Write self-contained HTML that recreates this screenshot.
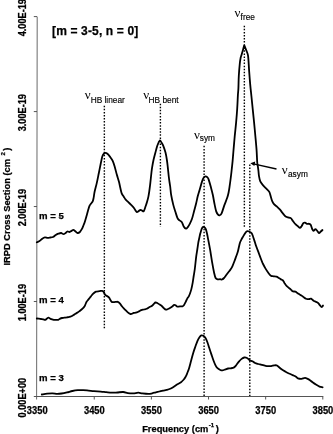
<!DOCTYPE html>
<html><head><meta charset="utf-8"><style>
html,body{margin:0;padding:0;background:#fff;}
body{width:333px;height:434px;overflow:hidden;}
svg{display:block;}
</style></head><body>
<svg width="333" height="434" viewBox="0 0 333 434"><g stroke="#555" stroke-width="1" fill="none"><path d="M37.2,16.6 L36.6,399.5" stroke="#6a6a6a"/><path d="M36.5,396.5 H323.3"/><path d="M33.8,396.50 H37.0"/><path d="M33.8,301.52 H37.0"/><path d="M33.8,206.55 H37.0"/><path d="M33.8,111.58 H37.0"/><path d="M33.8,16.60 H37.0"/><path d="M94.24,396.5 V399.5"/><path d="M151.38,396.5 V399.5"/><path d="M208.52,396.5 V399.5"/><path d="M265.66,396.5 V399.5"/><path d="M322.80,396.5 V399.5"/></g><g stroke="#000" stroke-width="1.4" stroke-dasharray="1.5 1.57" fill="none"><path d="M104.35,105.75 V328.2"/><path d="M160.4,103.65 V226.7"/><path d="M204.1,145.85 V396"/><path d="M244.35,25.75 V226.9"/><path d="M249.8,164.55 V396"/></g><g stroke="#000" stroke-width="1.8" fill="none" stroke-linejoin="round" stroke-linecap="round"><path d="M36.80,242.30C37.25,242.08 38.60,241.60 39.50,241.00C40.40,240.40 41.30,239.32 42.20,238.70C43.10,238.08 44.00,237.45 44.90,237.30C45.80,237.15 46.70,237.77 47.60,237.80C48.50,237.83 49.40,237.63 50.30,237.50C51.20,237.37 52.10,237.40 53.00,237.00C53.90,236.60 54.80,235.65 55.70,235.10C56.60,234.55 57.50,234.05 58.40,233.70C59.30,233.35 60.25,232.92 61.10,233.00C61.95,233.08 62.75,234.20 63.50,234.20C64.25,234.20 64.95,233.45 65.60,233.00C66.25,232.55 66.73,231.67 67.40,231.50C68.07,231.33 68.92,232.10 69.60,232.00C70.28,231.90 70.87,231.27 71.50,230.90C72.13,230.53 72.77,229.73 73.40,229.80C74.03,229.87 74.60,230.77 75.30,231.30C76.00,231.83 76.83,232.88 77.60,233.00C78.37,233.12 79.20,232.63 79.90,232.00C80.60,231.37 81.18,230.37 81.80,229.20C82.42,228.03 83.13,226.12 83.60,225.00C84.07,223.88 84.15,223.88 84.60,222.50C85.05,221.12 85.72,218.73 86.30,216.70C86.88,214.67 87.57,212.10 88.10,210.30C88.63,208.50 89.03,206.98 89.50,205.90C89.97,204.82 90.35,204.60 90.90,203.80C91.45,203.00 92.33,202.17 92.80,201.10C93.27,200.03 93.40,198.95 93.70,197.40C94.00,195.85 94.08,194.22 94.60,191.80C95.12,189.38 96.10,186.00 96.80,182.90C97.50,179.80 98.12,176.55 98.80,173.20C99.48,169.85 100.32,165.57 100.90,162.80C101.48,160.03 101.83,158.10 102.30,156.60C102.77,155.10 103.17,154.42 103.70,153.80C104.23,153.18 104.88,152.90 105.50,152.90C106.12,152.90 106.67,153.18 107.40,153.80C108.13,154.42 109.02,155.43 109.90,156.60C110.78,157.77 111.88,159.07 112.70,160.80C113.52,162.53 114.12,164.70 114.80,167.00C115.48,169.30 116.12,172.18 116.80,174.60C117.48,177.02 118.32,179.30 118.90,181.50C119.48,183.70 119.83,185.83 120.30,187.80C120.77,189.77 121.12,191.82 121.70,193.30C122.28,194.78 123.17,195.68 123.80,196.70C124.43,197.72 124.75,198.50 125.50,199.40C126.25,200.30 127.37,201.18 128.30,202.10C129.23,203.02 130.18,203.97 131.10,204.90C132.02,205.83 133.07,206.78 133.80,207.70C134.53,208.62 134.98,209.67 135.50,210.40C136.02,211.13 136.37,211.98 136.90,212.10C137.43,212.22 138.10,211.48 138.70,211.10C139.30,210.72 139.93,209.87 140.50,209.80C141.07,209.73 141.55,210.48 142.10,210.70C142.65,210.92 143.22,211.83 143.80,211.10C144.38,210.37 145.07,207.80 145.60,206.30C146.13,204.80 146.53,203.72 147.00,202.10C147.47,200.48 148.02,198.43 148.40,196.60C148.78,194.77 149.00,193.17 149.30,191.10C149.60,189.03 149.83,187.38 150.20,184.20C150.57,181.02 151.15,174.97 151.50,172.00C151.85,169.03 151.97,168.40 152.30,166.40C152.63,164.40 152.98,162.30 153.50,160.00C154.02,157.70 154.78,154.92 155.40,152.60C156.02,150.28 156.70,147.70 157.20,146.10C157.70,144.50 158.05,143.80 158.40,143.00C158.75,142.20 159.03,141.72 159.30,141.30C159.57,140.88 159.77,140.52 160.00,140.50C160.23,140.48 160.43,140.85 160.70,141.20C160.97,141.55 161.18,141.87 161.60,142.60C162.02,143.33 162.55,143.93 163.20,145.60C163.85,147.27 164.88,150.20 165.50,152.60C166.12,155.00 166.52,157.55 166.90,160.00C167.28,162.45 167.50,164.63 167.80,167.30C168.10,169.97 168.42,173.55 168.70,176.00C168.98,178.45 169.25,180.25 169.50,182.00C169.75,183.75 169.92,184.30 170.20,186.50C170.48,188.70 170.68,192.13 171.20,195.20C171.72,198.27 172.60,202.13 173.30,204.90C174.00,207.67 174.70,209.60 175.40,211.80C176.10,214.00 176.82,216.67 177.50,218.10C178.18,219.53 178.77,219.72 179.50,220.40C180.23,221.08 181.20,221.20 181.90,222.20C182.60,223.20 183.02,225.32 183.70,226.40C184.38,227.48 185.32,228.58 186.00,228.70C186.68,228.82 187.15,227.95 187.80,227.10C188.45,226.25 189.20,224.98 189.90,223.60C190.60,222.22 191.30,220.88 192.00,218.80C192.70,216.72 193.42,213.65 194.10,211.10C194.78,208.55 195.48,206.02 196.10,203.50C196.72,200.98 197.22,198.25 197.80,196.00C198.38,193.75 198.90,192.40 199.60,190.00C200.30,187.60 201.30,183.67 202.00,181.60C202.70,179.53 203.22,178.47 203.80,177.60C204.38,176.73 204.93,176.47 205.50,176.40C206.07,176.33 206.68,176.70 207.20,177.20C207.72,177.70 207.97,177.67 208.60,179.40C209.23,181.13 210.30,185.03 211.00,187.60C211.70,190.17 212.20,192.00 212.80,194.80C213.40,197.60 214.03,201.63 214.60,204.40C215.17,207.17 215.63,209.70 216.20,211.40C216.77,213.10 217.43,213.95 218.00,214.60C218.57,215.25 219.00,215.50 219.60,215.30C220.20,215.10 220.83,215.02 221.60,213.40C222.37,211.78 223.27,208.20 224.20,205.60C225.13,203.00 226.47,199.98 227.20,197.80C227.93,195.62 228.20,194.40 228.60,192.50C229.00,190.60 229.27,188.65 229.60,186.40C229.93,184.15 230.28,181.48 230.60,179.00C230.92,176.52 231.17,174.48 231.50,171.50C231.83,168.52 232.28,164.43 232.60,161.10C232.92,157.77 233.05,155.60 233.40,151.50C233.75,147.40 234.25,141.30 234.70,136.50C235.15,131.70 235.68,127.32 236.10,122.70C236.52,118.08 236.90,113.42 237.20,108.80C237.50,104.18 237.70,98.40 237.90,95.00C238.10,91.60 238.25,91.57 238.40,88.40C238.55,85.23 238.57,80.15 238.80,76.00C239.03,71.85 239.50,66.50 239.80,63.50C240.10,60.50 240.33,59.37 240.60,58.00C240.87,56.63 241.07,56.42 241.40,55.30C241.73,54.18 242.23,52.60 242.60,51.30C242.97,50.00 243.32,48.48 243.60,47.50C243.88,46.52 244.05,45.43 244.30,45.40C244.55,45.37 244.70,46.32 245.10,47.30C245.50,48.28 246.22,49.97 246.70,51.30C247.18,52.63 247.70,53.72 248.00,55.30C248.30,56.88 248.30,58.05 248.50,60.80C248.70,63.55 248.92,67.88 249.20,71.80C249.48,75.72 249.83,80.27 250.20,84.30C250.57,88.33 250.98,91.92 251.40,96.00C251.82,100.08 252.25,104.35 252.70,108.80C253.15,113.25 253.65,118.08 254.10,122.70C254.55,127.32 254.98,131.88 255.40,136.50C255.82,141.12 256.30,146.15 256.60,150.40C256.90,154.65 257.00,159.40 257.20,162.00C257.40,164.60 257.60,164.58 257.80,166.00C258.00,167.42 258.20,168.82 258.40,170.50C258.60,172.18 258.68,174.28 259.00,176.10C259.32,177.92 259.65,179.90 260.30,181.40C260.95,182.90 261.85,183.85 262.90,185.10C263.95,186.35 265.53,187.77 266.60,188.90C267.67,190.03 268.62,190.67 269.30,191.90C269.98,193.13 270.23,194.80 270.70,196.30C271.17,197.80 271.55,199.58 272.10,200.90C272.65,202.22 273.18,203.23 274.00,204.20C274.82,205.17 276.03,205.83 277.00,206.70C277.97,207.57 278.88,208.37 279.80,209.40C280.72,210.43 281.58,211.77 282.50,212.90C283.42,214.03 284.40,215.47 285.30,216.20C286.20,216.93 286.98,216.98 287.90,217.30C288.82,217.62 289.97,217.48 290.80,218.10C291.63,218.72 292.23,220.10 292.90,221.00C293.57,221.90 294.08,222.73 294.80,223.50C295.52,224.27 296.37,224.88 297.20,225.60C298.03,226.32 299.07,227.70 299.80,227.80C300.53,227.90 301.02,226.97 301.60,226.20C302.18,225.43 302.73,223.80 303.30,223.20C303.87,222.60 304.38,222.50 305.00,222.60C305.62,222.70 306.30,223.60 307.00,223.80C307.70,224.00 308.57,223.60 309.20,223.80C309.83,224.00 310.30,224.13 310.80,225.00C311.30,225.87 311.75,228.02 312.20,229.00C312.65,229.98 312.97,230.87 313.50,230.90C314.03,230.93 314.78,229.22 315.40,229.20C316.02,229.18 316.60,230.17 317.20,230.80C317.80,231.43 318.40,232.88 319.00,233.00C319.60,233.12 320.22,232.00 320.80,231.50C321.38,231.00 322.22,230.25 322.50,230.00"/><path d="M36.80,318.50C37.13,318.53 38.10,318.62 38.80,318.70C39.50,318.78 40.25,318.90 41.00,319.00C41.75,319.10 42.58,319.17 43.30,319.30C44.02,319.43 44.68,319.93 45.30,319.80C45.92,319.67 46.47,318.87 47.00,318.50C47.53,318.13 47.92,317.55 48.50,317.60C49.08,317.65 49.62,318.43 50.50,318.80C51.38,319.17 52.88,319.62 53.80,319.80C54.72,319.98 55.25,319.90 56.00,319.90C56.75,319.90 57.60,320.02 58.30,319.80C59.00,319.58 59.58,318.90 60.20,318.60C60.82,318.30 61.32,318.15 62.00,318.00C62.68,317.85 63.43,317.82 64.30,317.70C65.17,317.58 66.35,317.43 67.20,317.30C68.05,317.17 68.70,317.08 69.40,316.90C70.10,316.72 70.72,316.52 71.40,316.20C72.08,315.88 72.80,315.40 73.50,315.00C74.20,314.60 74.93,314.20 75.60,313.80C76.27,313.40 76.90,313.00 77.50,312.60C78.10,312.20 78.32,312.10 79.20,311.40C80.08,310.70 81.90,309.27 82.80,308.40C83.70,307.53 84.13,306.93 84.60,306.20C85.07,305.47 85.27,304.73 85.60,304.00C85.93,303.27 86.15,302.53 86.60,301.80C87.05,301.07 87.73,300.32 88.30,299.60C88.87,298.88 89.38,298.27 90.00,297.50C90.62,296.73 91.40,295.70 92.00,295.00C92.60,294.30 92.93,293.87 93.60,293.30C94.27,292.73 95.03,291.95 96.00,291.60C96.97,291.25 98.38,291.33 99.40,291.20C100.42,291.07 101.37,290.65 102.10,290.80C102.83,290.95 103.28,291.42 103.80,292.10C104.32,292.78 104.67,294.25 105.20,294.90C105.73,295.55 106.35,295.53 107.00,296.00C107.65,296.47 108.48,296.97 109.10,297.70C109.72,298.43 110.20,299.67 110.70,300.40C111.20,301.13 111.50,301.82 112.10,302.10C112.70,302.38 113.60,302.15 114.30,302.10C115.00,302.05 115.72,301.83 116.30,301.80C116.88,301.77 117.22,301.65 117.80,301.90C118.38,302.15 119.12,302.57 119.80,303.30C120.48,304.03 121.08,305.30 121.90,306.30C122.72,307.30 123.77,308.33 124.70,309.30C125.63,310.27 126.58,311.33 127.50,312.10C128.42,312.87 129.52,313.60 130.20,313.90C130.88,314.20 131.02,314.07 131.60,313.90C132.18,313.73 133.00,313.10 133.70,312.90C134.40,312.70 135.00,312.92 135.80,312.70C136.60,312.48 137.58,312.02 138.50,311.60C139.42,311.18 140.37,310.55 141.30,310.20C142.23,309.85 143.18,309.75 144.10,309.50C145.02,309.25 145.88,309.12 146.80,308.70C147.72,308.28 148.72,307.50 149.60,307.00C150.48,306.50 151.38,306.22 152.10,305.70C152.82,305.18 153.33,304.43 153.90,303.90C154.47,303.37 154.88,302.62 155.50,302.50C156.12,302.38 156.90,302.85 157.60,303.20C158.30,303.55 159.00,304.13 159.70,304.60C160.40,305.07 161.12,305.42 161.80,306.00C162.48,306.58 163.12,307.48 163.80,308.10C164.48,308.72 165.20,309.55 165.90,309.70C166.60,309.85 167.18,309.38 168.00,309.00C168.82,308.62 170.00,307.90 170.80,307.40C171.60,306.90 172.23,306.42 172.80,306.00C173.37,305.58 173.73,305.02 174.20,304.90C174.67,304.78 175.07,305.00 175.60,305.30C176.13,305.60 176.70,306.53 177.40,306.70C178.10,306.87 178.95,306.37 179.80,306.30C180.65,306.23 181.82,306.47 182.50,306.30C183.18,306.13 183.37,306.05 183.90,305.30C184.43,304.55 185.12,302.95 185.70,301.80C186.28,300.65 186.88,299.32 187.40,298.40C187.92,297.48 188.37,297.12 188.80,296.30C189.23,295.48 189.58,294.65 190.00,293.50C190.42,292.35 190.85,291.22 191.30,289.40C191.75,287.58 192.30,284.83 192.70,282.60C193.10,280.37 193.35,278.27 193.70,276.00C194.05,273.73 194.38,272.23 194.80,269.00C195.22,265.77 195.78,259.85 196.20,256.60C196.62,253.35 196.95,251.82 197.30,249.50C197.65,247.18 197.95,244.70 198.30,242.70C198.65,240.70 199.05,239.10 199.40,237.50C199.75,235.90 200.00,234.58 200.40,233.10C200.80,231.62 201.33,229.63 201.80,228.60C202.27,227.57 202.73,227.10 203.20,226.90C203.67,226.70 204.15,227.00 204.60,227.40C205.05,227.80 205.50,228.28 205.90,229.30C206.30,230.32 206.65,231.95 207.00,233.50C207.35,235.05 207.48,235.90 208.00,238.60C208.52,241.30 209.42,245.78 210.10,249.70C210.78,253.62 211.42,258.18 212.10,262.10C212.78,266.02 213.62,270.55 214.20,273.20C214.78,275.85 215.02,276.97 215.60,278.00C216.18,279.03 216.97,279.20 217.70,279.40C218.43,279.60 219.28,279.18 220.00,279.20C220.72,279.22 221.33,279.70 222.00,279.50C222.67,279.30 223.35,278.67 224.00,278.00C224.65,277.33 225.20,276.42 225.90,275.50C226.60,274.58 227.43,273.48 228.20,272.50C228.97,271.52 229.77,270.72 230.50,269.60C231.23,268.48 231.93,267.23 232.60,265.80C233.27,264.37 233.90,262.58 234.50,261.00C235.10,259.42 235.65,257.83 236.20,256.30C236.75,254.77 237.20,253.98 237.80,251.80C238.40,249.62 239.20,245.23 239.80,243.20C240.40,241.17 240.85,240.70 241.40,239.60C241.95,238.50 242.53,237.58 243.10,236.60C243.67,235.62 244.25,234.53 244.80,233.70C245.35,232.87 245.92,232.02 246.40,231.60C246.88,231.18 247.27,231.22 247.70,231.20C248.13,231.18 248.53,231.33 249.00,231.50C249.47,231.67 250.05,231.90 250.50,232.20C250.95,232.50 251.33,232.75 251.70,233.30C252.07,233.85 252.37,234.63 252.70,235.50C253.03,236.37 253.32,237.33 253.70,238.50C254.08,239.67 254.57,241.17 255.00,242.50C255.43,243.83 255.63,244.63 256.30,246.50C256.97,248.37 258.30,251.82 259.00,253.70C259.70,255.58 260.00,256.47 260.50,257.80C261.00,259.13 261.62,260.75 262.00,261.70C262.38,262.65 262.23,262.38 262.80,263.50C263.37,264.62 264.52,266.90 265.40,268.40C266.28,269.90 267.18,271.28 268.10,272.50C269.02,273.72 269.97,275.07 270.90,275.70C271.83,276.33 272.77,276.13 273.70,276.30C274.63,276.47 275.65,276.40 276.50,276.70C277.35,277.00 278.05,277.65 278.80,278.10C279.55,278.55 280.35,279.03 281.00,279.40C281.65,279.77 282.23,279.90 282.70,280.30C283.17,280.70 283.47,281.28 283.80,281.80C284.13,282.32 284.33,282.82 284.70,283.40C285.07,283.98 285.55,284.75 286.00,285.30C286.45,285.85 286.90,286.25 287.40,286.70C287.90,287.15 288.45,287.57 289.00,288.00C289.55,288.43 290.20,288.83 290.70,289.30C291.20,289.77 291.62,290.45 292.00,290.80C292.38,291.15 292.43,291.25 293.00,291.40C293.57,291.55 294.73,291.47 295.40,291.70C296.07,291.93 296.50,292.45 297.00,292.80C297.50,293.15 297.90,293.47 298.40,293.80C298.90,294.13 299.50,294.53 300.00,294.80C300.50,295.07 300.90,295.10 301.40,295.40C301.90,295.70 302.50,296.20 303.00,296.60C303.50,297.00 303.90,297.43 304.40,297.80C304.90,298.17 305.50,298.57 306.00,298.80C306.50,299.03 306.87,299.17 307.40,299.20C307.93,299.23 308.60,299.10 309.20,299.00C309.80,298.90 310.45,298.47 311.00,298.60C311.55,298.73 312.00,299.40 312.50,299.80C313.00,300.20 313.50,300.70 314.00,301.00C314.50,301.30 315.00,301.40 315.50,301.60C316.00,301.80 316.53,301.93 317.00,302.20C317.47,302.47 317.90,302.80 318.30,303.20C318.70,303.60 319.03,304.13 319.40,304.60C319.77,305.07 320.15,305.60 320.50,306.00C320.85,306.40 321.20,306.90 321.50,307.00C321.80,307.10 322.05,306.85 322.30,306.60C322.55,306.35 322.88,305.68 323.00,305.50"/><path d="M41.80,394.50C42.70,394.35 45.40,393.80 47.20,393.60C49.00,393.40 50.95,393.25 52.60,393.30C54.25,393.35 55.60,393.87 57.10,393.90C58.60,393.93 59.95,393.75 61.60,393.50C63.25,393.25 65.20,392.82 67.00,392.40C68.80,391.98 70.60,391.37 72.40,391.00C74.20,390.63 76.00,390.35 77.80,390.20C79.60,390.05 81.40,390.03 83.20,390.10C85.00,390.17 86.80,390.42 88.60,390.60C90.40,390.78 91.97,391.03 94.00,391.20C96.03,391.37 98.77,391.43 100.80,391.60C102.83,391.77 104.40,392.02 106.20,392.20C108.00,392.38 109.80,392.65 111.60,392.70C113.40,392.75 115.05,392.62 117.00,392.50C118.95,392.38 121.50,391.90 123.30,392.00C125.10,392.10 126.15,392.87 127.80,393.10C129.45,393.33 131.45,393.47 133.20,393.40C134.95,393.33 136.78,392.70 138.30,392.70C139.82,392.70 140.58,393.20 142.30,393.40C144.02,393.60 146.95,393.92 148.60,393.90C150.25,393.88 151.00,393.55 152.20,393.30C153.40,393.05 154.60,392.70 155.80,392.40C157.00,392.10 158.20,391.80 159.40,391.50C160.60,391.20 161.80,390.87 163.00,390.60C164.20,390.33 165.40,390.20 166.60,389.90C167.80,389.60 169.00,389.33 170.20,388.80C171.40,388.27 172.60,387.45 173.80,386.70C175.00,385.95 176.20,385.05 177.40,384.30C178.60,383.55 179.93,383.00 181.00,382.20C182.07,381.40 183.05,380.37 183.80,379.50C184.55,378.63 185.00,377.87 185.50,377.00C186.00,376.13 186.37,375.30 186.80,374.30C187.23,373.30 187.68,372.13 188.10,371.00C188.52,369.87 188.77,369.33 189.30,367.50C189.83,365.67 190.63,362.47 191.30,360.00C191.97,357.53 192.62,354.95 193.30,352.70C193.98,350.45 194.70,348.47 195.40,346.50C196.10,344.53 196.82,342.45 197.50,340.90C198.18,339.35 198.87,338.12 199.50,337.20C200.13,336.28 200.67,335.63 201.30,335.40C201.93,335.17 202.60,335.35 203.30,335.80C204.00,336.25 204.82,337.02 205.50,338.10C206.18,339.18 206.78,340.68 207.40,342.30C208.02,343.92 208.55,345.83 209.20,347.80C209.85,349.77 210.60,352.02 211.30,354.10C212.00,356.18 212.72,358.47 213.40,360.30C214.08,362.13 214.72,363.78 215.40,365.10C216.08,366.42 216.68,367.38 217.50,368.20C218.32,369.02 219.48,369.63 220.30,370.00C221.12,370.37 221.55,370.50 222.40,370.40C223.25,370.30 224.45,369.72 225.40,369.40C226.35,369.08 227.20,368.68 228.10,368.50C229.00,368.32 229.80,368.48 230.80,368.30C231.80,368.12 233.20,367.92 234.10,367.40C235.00,366.88 235.40,366.17 236.20,365.20C237.00,364.23 238.00,362.65 238.90,361.60C239.80,360.55 240.70,359.58 241.60,358.90C242.50,358.22 243.40,357.65 244.30,357.50C245.20,357.35 246.10,357.55 247.00,358.00C247.90,358.45 248.80,359.65 249.70,360.20C250.60,360.75 251.50,360.83 252.40,361.30C253.30,361.77 254.10,362.55 255.10,363.00C256.10,363.45 257.45,363.73 258.40,364.00C259.35,364.27 260.00,364.40 260.80,364.60C261.60,364.80 262.40,365.00 263.20,365.20C264.00,365.40 264.80,365.65 265.60,365.80C266.40,365.95 267.20,366.05 268.00,366.10C268.80,366.15 269.65,366.17 270.40,366.10C271.15,366.03 271.90,365.82 272.50,365.70C273.10,365.58 273.33,365.47 274.00,365.40C274.67,365.33 275.83,365.15 276.50,365.30C277.17,365.45 277.22,365.68 278.00,366.30C278.78,366.92 280.28,368.28 281.20,369.00C282.12,369.72 282.70,370.10 283.50,370.60C284.30,371.10 285.18,371.57 286.00,372.00C286.82,372.43 287.60,372.83 288.40,373.20C289.20,373.57 289.95,373.82 290.80,374.20C291.65,374.58 292.63,375.07 293.50,375.50C294.37,375.93 295.27,376.33 296.00,376.80C296.73,377.27 296.98,377.97 297.90,378.30C298.82,378.63 300.30,378.87 301.50,378.80C302.70,378.73 303.90,377.80 305.10,377.90C306.30,378.00 307.50,378.70 308.70,379.40C309.90,380.10 311.10,381.23 312.30,382.10C313.50,382.97 314.70,383.85 315.90,384.60C317.10,385.35 318.38,386.15 319.50,386.60C320.62,387.05 322.08,387.18 322.60,387.30"/></g><path d="M276.5,169 L253.5,163.9" stroke="#000" stroke-width="1.4" fill="none"/><path d="M250.3,163.2 L255.2,161.4 L254.4,166.1 Z" fill="#000"/><g font-family="Liberation Sans, Arial, sans-serif" font-weight="bold" fill="#000" stroke="#000" stroke-width="0.25"><text x="26.80" y="413.8" font-size="10" textLength="20.8" lengthAdjust="spacingAndGlyphs">3350</text><text x="83.94" y="413.8" font-size="10" textLength="20.8" lengthAdjust="spacingAndGlyphs">3450</text><text x="141.08" y="413.8" font-size="10" textLength="20.8" lengthAdjust="spacingAndGlyphs">3550</text><text x="198.22" y="413.8" font-size="10" textLength="20.8" lengthAdjust="spacingAndGlyphs">3650</text><text x="255.36" y="413.8" font-size="10" textLength="20.8" lengthAdjust="spacingAndGlyphs">3750</text><text x="312.50" y="413.8" font-size="10" textLength="20.8" lengthAdjust="spacingAndGlyphs">3850</text><text transform="translate(26.2,417.40) rotate(-90)" font-size="10" textLength="39.6" lengthAdjust="spacingAndGlyphs">0.00E+00</text><text transform="translate(26.2,321.27) rotate(-90)" font-size="10" textLength="37.3" lengthAdjust="spacingAndGlyphs">1.00E-19</text><text transform="translate(26.2,226.30) rotate(-90)" font-size="10" textLength="37.3" lengthAdjust="spacingAndGlyphs">2.00E-19</text><text transform="translate(26.2,131.33) rotate(-90)" font-size="10" textLength="37.3" lengthAdjust="spacingAndGlyphs">3.00E-19</text><text transform="translate(26.2,36.35) rotate(-90)" font-size="10" textLength="37.3" lengthAdjust="spacingAndGlyphs">4.00E-19</text><text x="52" y="35" font-size="12" letter-spacing="0.15">[m = 3-5, n = 0]</text><text x="39" y="219" font-size="9.6">m = 5</text><text x="39" y="303.2" font-size="9.6">m = 4</text><text x="39" y="380.8" font-size="9.6">m = 3</text><text x="142.2" y="431.6" font-size="9.3">Frequency (cm<tspan font-size="6" dy="-4.8" dx="0.5">-1</tspan><tspan dy="4.8" dx="1.6">)</tspan></text><text transform="translate(9.8,265.5) rotate(-90)" font-size="9.3">IRPD Cross Section (cm <tspan font-size="6" dy="-4.9" dx="0.9">2</tspan><tspan dy="4.9" dx="1.6">)</tspan></text></g><text x="84.8" y="99.2" font-family="Liberation Serif, Times New Roman, serif" font-size="13" fill="#000">ν</text><text x="90.7" y="102.7" font-family="Liberation Sans, Arial, sans-serif" font-size="8.3" fill="#000" stroke="#000" stroke-width="0.15">HB linear</text><text x="143.3" y="99.1" font-family="Liberation Serif, Times New Roman, serif" font-size="13" fill="#000">ν</text><text x="148.6" y="102.7" font-family="Liberation Sans, Arial, sans-serif" font-size="8.3" fill="#000" stroke="#000" stroke-width="0.15">HB bent</text><text x="194.0" y="138.7" font-family="Liberation Serif, Times New Roman, serif" font-size="13" fill="#000">ν</text><text x="199.8" y="141.2" font-family="Liberation Sans, Arial, sans-serif" font-size="8.3" fill="#000" stroke="#000" stroke-width="0.15">sym</text><text x="234.4" y="16.5" font-family="Liberation Serif, Times New Roman, serif" font-size="13" fill="#000">ν</text><text x="240.6" y="20.0" font-family="Liberation Sans, Arial, sans-serif" font-size="8.3" fill="#000" stroke="#000" stroke-width="0.15">free</text><text x="281.7" y="173.5" font-family="Liberation Serif, Times New Roman, serif" font-size="13" fill="#000">ν</text><text x="288.0" y="176.6" font-family="Liberation Sans, Arial, sans-serif" font-size="8.3" fill="#000" stroke="#000" stroke-width="0.15">asym</text></svg>
</body></html>
